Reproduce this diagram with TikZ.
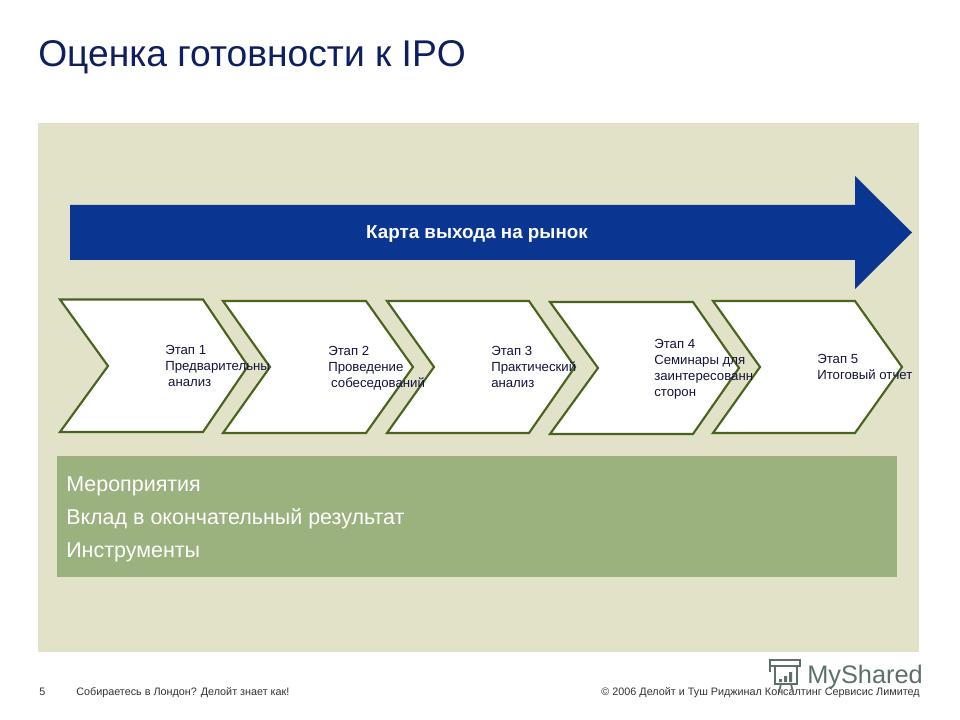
\documentclass[tikz,border=0pt]{standalone}
\usepackage{fontspec}
\setmainfont{Liberation Sans}
\definecolor{panelc}{HTML}{E1E2C8}
\definecolor{bluec}{HTML}{0A3692}
\definecolor{greenc}{HTML}{9BB27F}
\definecolor{edgec}{HTML}{4A6420}
\definecolor{titlec}{HTML}{0E1E5E}
\definecolor{inkc}{HTML}{14143C}
\definecolor{logoc}{HTML}{5F7068}
\tikzset{
  chev/.style={draw=edgec,fill=white,line width=1.6pt,line join=miter},
  stagetxt/.style={anchor=north west,inner sep=0pt,align=left,font=\fontsize{9.9}{12}\selectfont,text=inkc},
  bandtxt/.style={anchor=base west,inner sep=0pt,font=\fontsize{16.1}{19}\selectfont,text=white},
  foottxt/.style={anchor=base west,inner sep=0pt,font=\fontsize{8.1}{10}\selectfont,text=black!80},
}
\begin{document}
\begin{tikzpicture}[x=0.75pt,y=-0.75pt]
\useasboundingbox (0,0) rectangle (960,720);
\fill[white] (0,0) rectangle (960,720);
\node[anchor=base west,inner sep=0pt,font=\fontsize{27.9}{32}\selectfont,text=titlec] (title) at (38,67) {Оценка готовности к IPO};
\fill[panelc] (38,123) rectangle (919,652);
\fill[bluec] (70,205) -- (855,205) -- (855,176) -- (912,232.5) -- (855,289) -- (855,260) -- (70,260) -- cycle;
\node[anchor=base,inner sep=0pt,font=\bfseries\fontsize{14.1}{17}\selectfont,text=white] (map) at (477,239) {Карта выхода на рынок};
\draw[chev] (60,299.5) -- (203,299.5) -- (248,366) -- (203,432) -- (60,432) -- (108,366) -- cycle;
\draw[chev] (223,301) -- (366,301) -- (413,367) -- (366,433) -- (223,433) -- (270,367) -- cycle;
\draw[chev] (387,301) -- (529,301) -- (575,367) -- (529,433) -- (387,433) -- (434,367) -- cycle;
\draw[chev] (550,302) -- (693,302) -- (739,368) -- (693,434) -- (550,434) -- (598,368) -- cycle;
\draw[chev] (713,301) -- (855,301) -- (902,367) -- (855,433) -- (713,433) -- (760,367) -- cycle;
\node[stagetxt] (s1) at (165,345) {Этап 1\\Предварительны\\\hspace{2.2pt}анализ};
\node[stagetxt] (s2) at (328,346) {Этап 2\\Проведение\\\hspace{2.2pt}собеседований};
\node[stagetxt] (s3) at (491,346) {Этап 3\\Практический\\анализ};
\node[stagetxt] (s4) at (654,339) {Этап 4\\Семинары для\\заинтересованн\\сторон};
\node[stagetxt] (s5) at (817,354) {Этап 5\\Итоговый отчет};
\fill[greenc] (57,456) rectangle (897,577);
\node[bandtxt] (b1) at (66,491) {Мероприятия};
\node[bandtxt] (b2) at (66,524) {Вклад в окончательный результат};
\node[bandtxt] (b3) at (66,557) {Инструменты};
\node[foottxt] (n) at (39,695) {5};
\node[foottxt] (fl) at (76,695) {Собираетесь в Лондон? Делойт знает как!};
\node[foottxt,anchor=base east] (fr) at (920,695) {© 2006 Делойт и Туш Риджинал Консалтинг Сервисис Лимитед};
\node[anchor=base west,inner sep=0pt,font=\fontsize{19}{22}\selectfont,text=logoc] (logo) at (807,683) {MyShared};
\draw[logoc,line width=1.5pt] (770,660) -- (800,660) -- (800,666) -- (770,666) -- cycle;
\draw[logoc,line width=1.5pt] (775,666) rectangle (797,684);
\draw[logoc,line width=1.3pt] (770,662) -- (770,672);
\draw[logoc,line width=1.3pt] (781,684) -- (779,692) (791,684) -- (793,692);
\fill[logoc] (779,679) rectangle (782,682) (784,676) rectangle (787,682) (789,672) rectangle (792,682);
\end{tikzpicture}
\end{document}
